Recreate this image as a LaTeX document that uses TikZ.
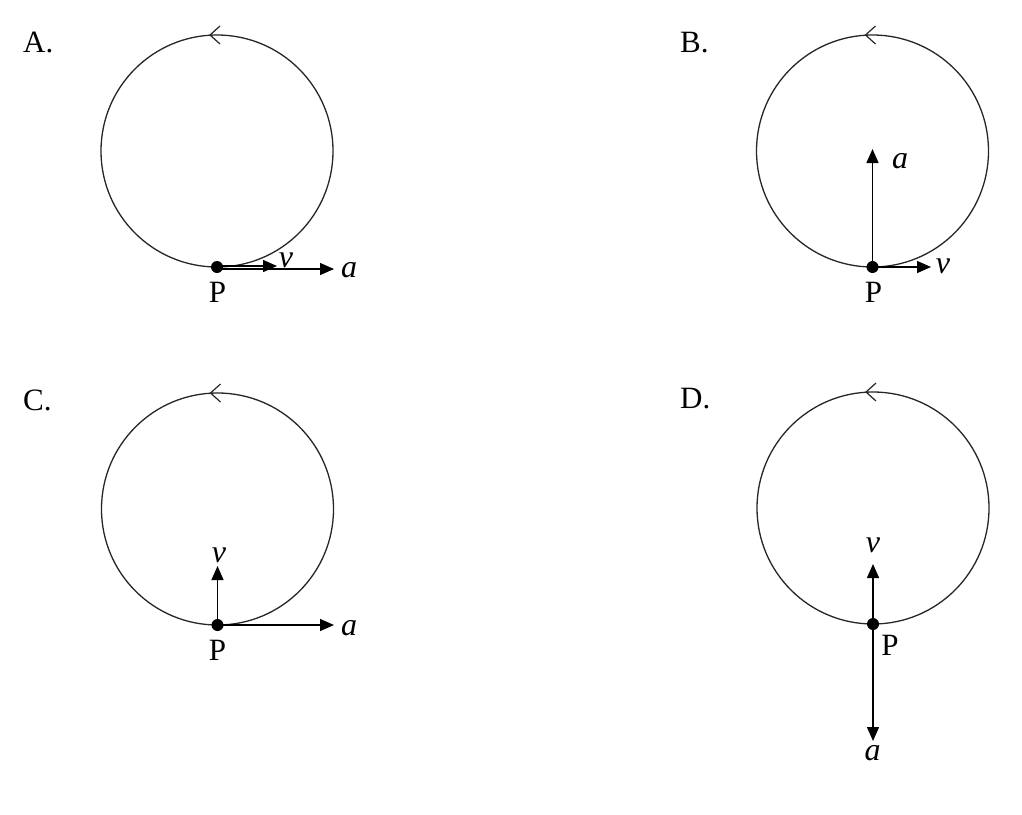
\documentclass[tikz,border=0pt]{standalone}
\usepackage{fontspec}
\setmainfont{Liberation Serif}
\usetikzlibrary{arrows.meta}
\begin{document}
\begin{tikzpicture}[x=1pt,y=-1pt,
  orbit/.style={draw=black!85,line width=1.3pt},
  vec/.style={line width=1.4pt,-{Triangle[length=14pt,width=12pt]}},
  chev/.style={line width=1.2pt,draw=black!85},
  pdot/.style={circle,fill=black,inner sep=0pt,minimum size=12pt},
  lab/.style={font=\fontsize{31}{33}\selectfont,inner sep=0pt,anchor=base},
  ilab/.style={font=\fontsize{32}{33}\selectfont\itshape,inner sep=0pt,anchor=base},
  opt/.style={font=\fontsize{31}{33}\selectfont,inner sep=0pt,anchor=base west}]
\useasboundingbox (0,0) rectangle (1022,814);
% ---------- A ----------
\node[opt] (LA) at (23,52) {A.};
\draw[orbit] (217,151) circle (116);
\draw[chev] (220,26) -- (210,35) -- (220,44);
\node[pdot] (PA) at (217,267) {};
\coordinate (vA) at (277,266);
\coordinate (aA) at (334,269);
\draw[vec] (217,266) -- (vA);
\draw[vec] (217,269) -- (aA);
\node[ilab] (tvA) at (286,267) {v};
\node[ilab] (taA) at (349,277) {a};
\node[lab] (tPA) at (217.5,302) {P};
% ---------- B ----------
\node[opt] (LB) at (680,52) {B.};
\draw[orbit] (872.5,151) circle (116);
\draw[chev] (875.5,26) -- (865.5,35) -- (875.5,44);
\node[pdot] (PB) at (872.5,267) {};
\coordinate (aB) at (872.5,149);
\coordinate (vB) at (931,267);
\draw[vec] (PB.center) -- (aB);
\draw[vec] (PB.center) -- (vB);
\node[ilab] (taB) at (900,168) {a};
\node[ilab] (tvB) at (943,273) {v};
\node[lab] (tPB) at (873.5,302) {P};
% ---------- C ----------
\node[opt] (LC) at (23,410) {C.};
\draw[orbit] (217.5,509) circle (116);
\draw[chev] (220.5,384) -- (210.5,393) -- (220.5,402);
\node[pdot] (PC) at (217.5,625) {};
\coordinate (vC) at (217.5,566);
\coordinate (aC) at (334,625);
\draw[vec] (PC.center) -- (vC);
\draw[vec] (PC.center) -- (aC);
\node[ilab] (tvC) at (219,562) {v};
\node[ilab] (taC) at (349,635) {a};
\node[lab] (tPC) at (217.5,660) {P};
% ---------- D ----------
\node[opt] (LD) at (680,408) {D.};
\draw[orbit] (873,508) circle (116);
\draw[chev] (876,383) -- (866,392) -- (876,401);
\node[pdot] (PD) at (873,624) {};
\coordinate (vD) at (873,564);
\coordinate (aD) at (873,741);
\draw[vec] (PD.center) -- (vD);
\draw[vec] (PD.center) -- (aD);
\node[ilab] (tvD) at (873,552) {v};
\node[ilab] (taD) at (872.5,760) {a};
\node[lab] (tPD) at (890,655) {P};
\end{tikzpicture}
\end{document}
